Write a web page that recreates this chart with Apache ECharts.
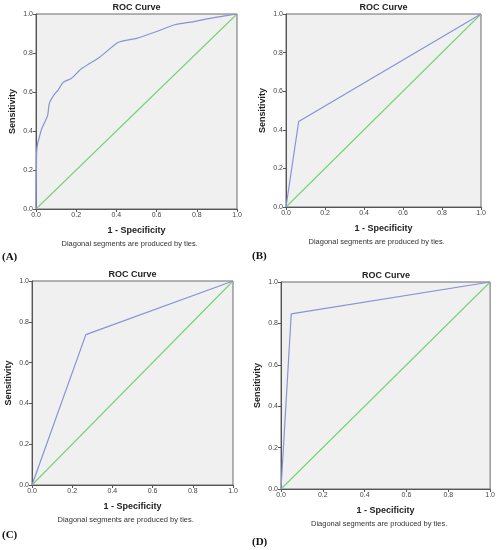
<!DOCTYPE html>
<html>
<head>
<meta charset="utf-8">
<script src="https://cdn.jsdelivr.net/npm/echarts@6/dist/echarts.min.js"></script>
<style>html,body{margin:0;padding:0;background:#fff}#c{width:498px;height:550px}</style>
</head>
<body>
<div id="c"></div>
<script>
// ROC curves: [1 - Specificity, Sensitivity]
const rocA = [[0,0],[0.003,0.29],[0.008,0.335],[0.017,0.37],[0.028,0.41],[0.041,0.44],[0.058,0.48],[0.066,0.54],[0.086,0.58],[0.11,0.61],[0.136,0.65],[0.177,0.67],[0.227,0.72],[0.318,0.78],[0.41,0.855],[0.50,0.875],[0.60,0.91],[0.69,0.945],[0.78,0.96],[0.85,0.975],[0.94,0.99],[1,1]];
const rocB = [[0,0],[0.065,0.443],[1,1]];
const rocC = [[0,0],[0.268,0.737],[1,1]];
const rocD = [[0,0],[0.049,0.846],[1,1]];
const reference = [[0,0],[1,1]];
const panelLabels = ['(A)','(B)','(C)','(D)'];
const panelTitle = 'ROC Curve';
const xName = '1 - Specificity';
const yName = 'Sensitivity';
const footnote = 'Diagonal segments are produced by ties.';

const curves = [rocA, rocB, rocC, rocD];
// layout per panel (pixels)
const boxes = [
  {l:36, r:237, t:14, b:209, lab:[2,258]},
  {l:286, r:481, t:14, b:207, lab:[252,257]},
  {l:32, r:233, t:281, b:485, lab:[2,536]},
  {l:281, r:491, t:282, b:489, lab:[252,543]}
];

const grids=[], xAxes=[], yAxes=[], series=[], titles=[], graphics=[];
boxes.forEach((bx,i)=>{
  grids.push({left:bx.l, top:bx.t, width:bx.r-bx.l, height:bx.b-bx.t, show:true,
    backgroundColor:'#f0f0f0', borderColor:'#6a6a6a', borderWidth:1});
  const axCommon = {min:0, max:1, interval:0.2,
    axisLine:{show:true, onZero:false, lineStyle:{color:'#555', width:1}},
    axisTick:{show:true, length:3, lineStyle:{color:'#555'}},
    splitLine:{show:false},
    axisLabel:{fontSize:7, color:'#444', fontFamily:'Liberation Sans, Arial', formatter:v=>v.toFixed(1), margin:3},
    nameTextStyle:{fontSize:9, fontWeight:'bold', color:'#222', fontFamily:'Liberation Sans, Arial'}
  };
  xAxes.push(Object.assign({}, axCommon, {type:'value', gridIndex:i, name:xName, nameLocation:'middle', nameGap:17}));
  yAxes.push(Object.assign({}, axCommon, {type:'value', gridIndex:i, name:yName, nameLocation:'middle', nameGap:19}));
  series.push({type:'line', xAxisIndex:i, yAxisIndex:i, data:reference, symbol:'none', silent:true,
    lineStyle:{color:'#74d474', width:1.1}, z:2});
  series.push({type:'line', xAxisIndex:i, yAxisIndex:i, data:curves[i], symbol:'none', silent:true,
    smooth: i===0 ? 0.2 : false,
    lineStyle:{color:'#8793d6', width:1.2}, z:3});
  titles.push({text:panelTitle, left:(bx.l+bx.r)/2, top:bx.t-11, textAlign:'center', padding:0,
    textStyle:{fontSize:9, fontWeight:'bold', color:'#222', fontFamily:'Liberation Sans, Arial'}});
  graphics.push({type:'text', left:(bx.l+bx.r)/2 - 75, top:bx.b+31,
    style:{text:footnote, fontSize:7.5, fill:'#333', fontFamily:'Liberation Sans, Arial', width:150, align:'center'}});
  graphics.push({type:'text', left:bx.lab[0], top:bx.lab[1]-6,
    style:{text:panelLabels[i], fontSize:11, fontWeight:'bold', fill:'#111', fontFamily:'Liberation Serif, Times New Roman'}});
});

const chart = echarts.init(document.getElementById('c'), null, {renderer:'canvas'});
chart.setOption({
  animation:false,
  backgroundColor:'#fff',
  title:titles,
  grid:grids, xAxis:xAxes, yAxis:yAxes, series:series,
  graphic:graphics
});
</script>
</body>
</html>
